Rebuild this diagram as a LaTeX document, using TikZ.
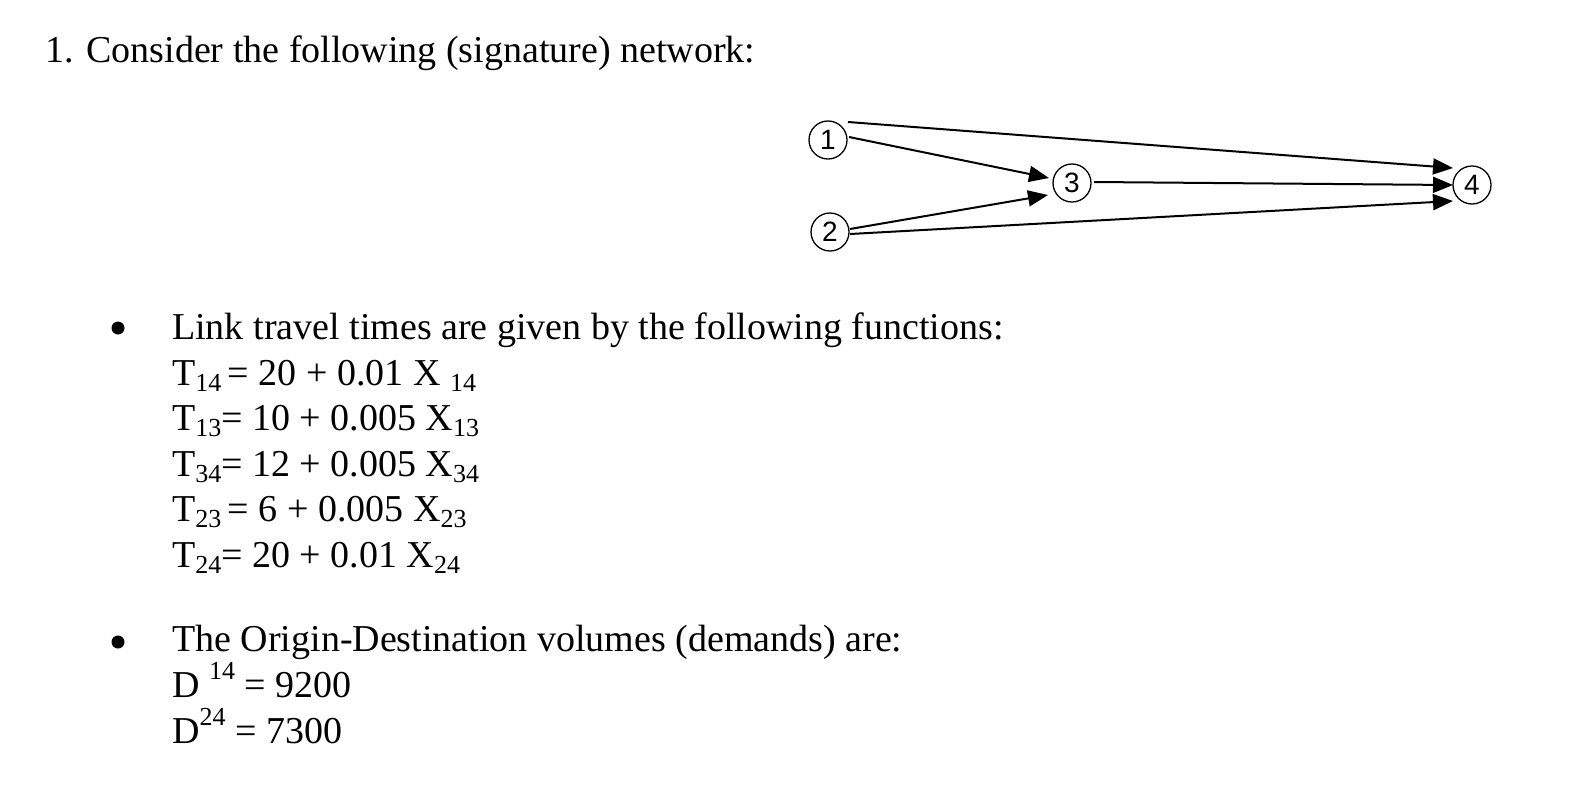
\documentclass[tikz,border=0pt]{standalone}
\usepackage{fontspec}
\setmainfont{Liberation Serif}
\newfontfamily\sansf{Liberation Sans}
\usetikzlibrary{arrows.meta}
\newcommand{\sbs}[1]{\raisebox{-0.18em}{\fontsize{26}{26}\selectfont #1}}
\newcommand{\sps}[1]{\raisebox{0.45em}{\fontsize{26}{26}\selectfont #1}}
\begin{document}
\begin{tikzpicture}[x=1pt,y=-1pt,
  nd/.style={circle,draw,line width=1.3pt,minimum size=38pt,inner sep=0pt,font=\sansf\fontsize{28}{28}\selectfont},
  ar/.style={line width=2pt,-{Triangle[length=20pt,width=16pt]}},
  tx/.style={anchor=base west,inner sep=0pt,font=\fontsize{38}{40}\selectfont},
  bl/.style={circle,fill,inner sep=0pt,minimum size=13pt}]
\useasboundingbox (0,0) rectangle (1576,798);
\node[tx] (title) at (45,62) {1. Consider the following (signature) network:};
\node[nd] (n1) at (828,140) {1};
\node[nd] (n2) at (830,232) {2};
\node[nd] (n3) at (1072,183) {3};
\node[nd] (n4) at (1472,185) {4};
\coordinate (e14a) at (848,122); \coordinate (e14b) at (1453,168);
\coordinate (e13a) at (849,137); \coordinate (e13b) at (1049,178);
\coordinate (e34a) at (1094,182); \coordinate (e34b) at (1453,185);
\coordinate (e23a) at (850,229); \coordinate (e23b) at (1048,195);
\coordinate (e24a) at (850,234); \coordinate (e24b) at (1453,201);
\draw[ar] (e14a) -- (e14b);
\draw[ar] (e13a) -- (e13b);
\draw[ar] (e34a) -- (e34b);
\draw[ar] (e23a) -- (e23b);
\draw[ar] (e24a) -- (e24b);
\node[bl] (b1) at (118,328) {};
\node[bl] (b2) at (118,642) {};
\node[tx] (l0) at (172,339) {Link travel times are given by the following functions:};
\node[tx] (l1) at (172,385) {T\sbs{14}\,= 20 + 0.01 X \sbs{14}};
\node[tx] (l2) at (172,430) {T\sbs{13}= 10 + 0.005 X\sbs{13}};
\node[tx] (l3) at (172,476) {T\sbs{34}= 12 + 0.005 X\sbs{34}};
\node[tx] (l4) at (172,521) {T\sbs{23}\,= 6 + 0.005 X\sbs{23}};
\node[tx] (l5) at (172,567) {T\sbs{24}= 20 + 0.01 X\sbs{24}};
\node[tx] (m0) at (172,651) {The Origin-Destination volumes (demands) are:};
\node[tx] (m1) at (172,697) {D \sps{14} = 9200};
\node[tx] (m2) at (172,743) {D\sps{24} = 7300};
\end{tikzpicture}
\end{document}
